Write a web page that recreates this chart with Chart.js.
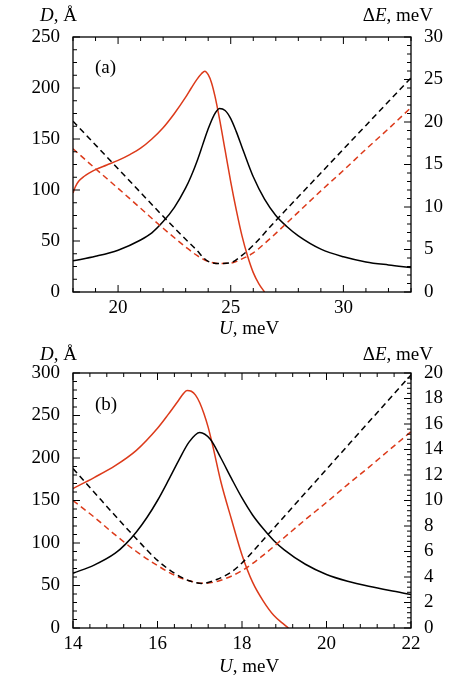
<!DOCTYPE html>
<html>
<head>
<meta charset="UTF-8">
<title>D and ΔE vs U</title>
<script src="https://cdn.jsdelivr.net/npm/chart.js@4.4.1/dist/chart.umd.min.js"></script>
<style>
    body { margin: 0; background: #fff; }
    #wrap { position: relative; width: 474px; height: 700px; font-family: "Liberation Serif", serif; }
    canvas { position: absolute; left: 0; }
    .lbl { position: absolute; font-size: 19px; line-height: 20px; color: #000; white-space: nowrap; }
</style>
</head>
<body>
<div id="wrap">
    <canvas id="chartA" width="474" height="345" style="top:0"></canvas>
    <canvas id="chartB" width="474" height="345" style="top:336px"></canvas>

    <div class="lbl" style="left:40px; top:5px"><i>D</i>, Å</div>
    <div class="lbl" style="right:41px; top:5px">Δ<i>E</i>, meV</div>
    <div class="lbl" style="left:95px; top:57px">(a)</div>
    <div class="lbl" style="left:219px; top:318px"><i>U</i>, meV</div>

    <div class="lbl" style="left:40px; top:344px"><i>D</i>, Å</div>
    <div class="lbl" style="right:41px; top:344px">Δ<i>E</i>, meV</div>
    <div class="lbl" style="left:95px; top:394px">(b)</div>
    <div class="lbl" style="left:219px; top:656px"><i>U</i>, meV</div>
</div>
<script>
    // ---- panel (a) ----
    const aBlackU = [18, 19, 20, 21, 21.5, 22, 22.5, 23, 23.25, 23.5, 23.75, 24, 24.25, 24.5, 24.75, 25, 25.25, 25.5, 25.75, 26, 26.5, 27, 27.5, 28, 29, 30, 31, 32, 33];
    const aBlackD = [30.5, 35, 41, 51, 58, 69, 83, 102, 114, 128, 144, 160, 173, 180, 178, 170, 157, 142, 127, 113, 91, 75, 64, 55, 42, 34.5, 29.5, 26.5, 24];
    const aRedU = [18, 18.1, 18.25, 18.5, 18.75, 19, 19.5, 20, 20.5, 21, 21.5, 22, 22.5, 23, 23.25, 23.5, 23.7, 23.85, 24, 24.15, 24.3, 24.5, 24.75, 25, 25.25, 25.5, 25.75, 26, 26.25, 26.5];
    const aRedD = [97, 103, 108.5, 113.5, 117, 120, 124.5, 129, 134.5, 141, 150, 161, 175, 191, 200, 208.5, 214, 216.5, 213, 205, 192, 170, 139, 108, 80, 55, 35, 19, 8, 0];
    const aBlackDashU = [18, 19, 20, 21, 22, 23, 23.5, 23.8, 24, 24.5, 25, 25.5, 26, 27, 28, 29, 30, 31, 32, 33];
    const aBlackDashE = [20.1, 17.3, 14.5, 11.7, 8.9, 6.2, 4.9, 4.0, 3.6, 3.35, 3.45, 4.3, 5.5, 8.4, 11.2, 14.0, 16.8, 19.6, 22.4, 25.2];
    const aRedDashU = [18, 19, 20, 21, 22, 23, 23.5, 24, 24.5, 25, 25.5, 26, 26.5, 27, 28, 29, 30, 31, 32, 33];
    const aRedDashE = [16.85, 14.5, 12.2, 9.85, 7.5, 5.3, 4.3, 3.6, 3.35, 3.4, 3.9, 4.6, 5.7, 6.9, 9.4, 11.9, 14.3, 16.8, 19.2, 21.7];
    const aTicksU = [20, 25, 30];
    const aTicksD = [0, 50, 100, 150, 200, 250];
    const aTicksE = [0, 5, 10, 15, 20, 25, 30];

    // ---- panel (b) ----
    const bBlackU = [14, 14.5, 15, 15.25, 15.5, 15.75, 16, 16.25, 16.5, 16.75, 17, 17.25, 17.5, 17.75, 18, 18.25, 18.5, 18.75, 19, 19.5, 20, 20.5, 21, 21.5, 22];
    const bBlackD = [64.5, 74, 88, 99, 113, 130, 150, 173, 197, 219, 230, 222, 200, 176, 153, 133, 117, 103, 92, 75, 63, 55, 49, 44, 39.5];
    const bRedU = [14, 14.5, 15, 15.5, 16, 16.25, 16.5, 16.6, 16.7, 16.8, 16.9, 17, 17.1, 17.2, 17.3, 17.5, 17.75, 18, 18.25, 18.5, 18.75, 19, 19.1];
    const bRedD = [164, 177, 191, 209, 235, 251, 268, 275, 279.5, 278.5, 274, 265, 252, 236, 216, 172, 128, 86, 54, 32, 15, 4, 0];
    const bBlackDashU = [14, 14.5, 15, 15.5, 16, 16.4, 16.75, 17.05, 17.4, 17.75, 18, 18.5, 19, 19.5, 20, 20.5, 21, 21.5, 22];
    const bBlackDashE = [12.5, 10.65, 8.8, 7.0, 5.3, 4.3, 3.7, 3.5, 3.8, 4.4, 5.1, 6.9, 8.75, 10.6, 12.45, 14.3, 16.15, 18.0, 19.85];
    const bRedDashU = [14, 14.5, 15, 15.5, 16, 16.4, 16.75, 17.1, 17.5, 18, 18.5, 19, 19.5, 20, 20.5, 21, 21.5, 22];
    const bRedDashE = [10.0, 8.7, 7.3, 6.0, 4.9, 4.15, 3.7, 3.5, 3.75, 4.5, 5.7, 7.1, 8.5, 9.85, 11.25, 12.6, 14.0, 15.4];
    const bTicksU = [14, 16, 18, 20, 22];
    const bTicksD = [0, 50, 100, 150, 200, 250, 300];
    const bTicksE = [0, 2, 4, 6, 8, 10, 12, 14, 16, 18, 20];

    const RED = '#dc3a1a';
    const BLACK = '#000';

    function pts(xs, ys) {
        return xs.map((x, i) => ({ x: x, y: ys[i] }));
    }

    function line(data, color, axis, dashed) {
        return {
            data: data,
            yAxisID: axis,
            borderColor: color,
            borderWidth: 1.5,
            borderDash: dashed ? [6, 4] : [],
            pointRadius: 0,
            showLine: true,
            fill: false,
            cubicInterpolationMode: 'monotone'
        };
    }

    // inward ticks + frame, like the original figure
    const framePlugin = {
        id: 'frame',
        afterDraw(chart, args, opts) {
            const ctx = chart.ctx;
            const a = chart.chartArea;
            const sx = chart.scales.x, sy = chart.scales.y, sy1 = chart.scales.y1;
            ctx.save();
            ctx.strokeStyle = '#000';
            ctx.lineWidth = 1;
            const isMajor = (v, list) => list.some(t => Math.abs(t - v) < 1e-6);
            ctx.beginPath();
            for (let v = sx.min; v <= sx.max + 1e-6; v += opts.xMinor) {
                const p = sx.getPixelForValue(v);
                const len = isMajor(v, opts.xTicks) ? 7 : 4;
                ctx.moveTo(p, a.bottom); ctx.lineTo(p, a.bottom - len);
                ctx.moveTo(p, a.top); ctx.lineTo(p, a.top + len);
            }
            for (let v = sy.min; v <= sy.max + 1e-6; v += opts.yMinor) {
                const p = sy.getPixelForValue(v);
                const len = isMajor(v, opts.yTicks) ? 7 : 4;
                ctx.moveTo(a.left, p); ctx.lineTo(a.left + len, p);
            }
            for (let v = sy1.min; v <= sy1.max + 1e-6; v += opts.y1Minor) {
                const p = sy1.getPixelForValue(v);
                const len = isMajor(v, opts.y1Ticks) ? 7 : 4;
                ctx.moveTo(a.right, p); ctx.lineTo(a.right - len, p);
            }
            ctx.stroke();
            ctx.lineWidth = 1.3;
            ctx.strokeRect(a.left, a.top, a.right - a.left, a.bottom - a.top);
            ctx.restore();
        }
    };

    const tickFont = { family: 'Liberation Serif', size: 19 };

    function makeChart(id, ds, xr, xTicks, yTicks, y1Ticks, minors) {
        return new Chart(document.getElementById(id), {
            type: 'scatter',
            data: { datasets: ds },
            options: {
                responsive: false,
                animation: false,
                layout: { padding: { top: 37, left: 0, right: 0, bottom: 0 } },
                plugins: {
                    legend: { display: false },
                    tooltip: { enabled: false },
                    frame: { xTicks: xTicks, yTicks: yTicks, y1Ticks: y1Ticks, xMinor: minors[0], yMinor: minors[1], y1Minor: minors[2] }
                },
                scales: {
                    x: {
                        type: 'linear', position: 'bottom', min: xr[0], max: xr[1],
                        grid: { display: false }, border: { display: false },
                        afterBuildTicks: s => { s.ticks = xTicks.map(v => ({ value: v })); },
                        afterFit: s => { s.height = 53; },
                        ticks: { font: tickFont, color: '#000', padding: -3, maxRotation: 0, autoSkip: false }
                    },
                    y: {
                        type: 'linear', position: 'left', min: yTicks[0], max: yTicks[yTicks.length - 1],
                        grid: { display: false }, border: { display: false },
                        afterBuildTicks: s => { s.ticks = yTicks.map(v => ({ value: v })); },
                        afterFit: s => { s.width = 73; },
                        ticks: { font: tickFont, color: '#000', padding: 5, autoSkip: false }
                    },
                    y1: {
                        type: 'linear', position: 'right', min: y1Ticks[0], max: y1Ticks[y1Ticks.length - 1],
                        grid: { display: false }, border: { display: false },
                        afterBuildTicks: s => { s.ticks = y1Ticks.map(v => ({ value: v })); },
                        afterFit: s => { s.width = 63; },
                        ticks: { font: tickFont, color: '#000', padding: 5, autoSkip: false }
                    }
                }
            },
            plugins: [framePlugin]
        });
    }

    makeChart('chartA', [
        line(pts(aBlackDashU, aBlackDashE), BLACK, 'y1', true),
        line(pts(aRedDashU, aRedDashE), RED, 'y1', true),
        line(pts(aBlackU, aBlackD), BLACK, 'y', false),
        line(pts(aRedU, aRedD), RED, 'y', false)
    ], [18, 33], aTicksU, aTicksD, aTicksE, [1, 12.5, 1]);

    makeChart('chartB', [
        line(pts(bBlackDashU, bBlackDashE), BLACK, 'y1', true),
        line(pts(bRedDashU, bRedDashE), RED, 'y1', true),
        line(pts(bBlackU, bBlackD), BLACK, 'y', false),
        line(pts(bRedU, bRedD), RED, 'y', false)
    ], [14, 22], bTicksU, bTicksD, bTicksE, [0.4, 10, 0.4]);
</script>
</body>
</html>
